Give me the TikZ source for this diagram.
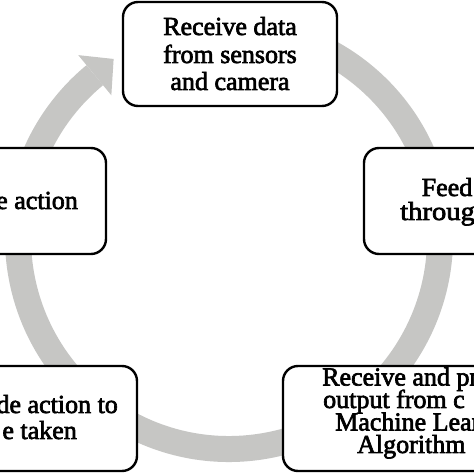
\documentclass[tikz,border=0pt]{standalone}
\usepackage{fontspec}
\setmainfont{Liberation Serif}[FakeBold=2.5]
\definecolor{bandgray}{RGB}{198,198,196}
\begin{document}
\begin{tikzpicture}[x=1pt,y=1pt,
  box/.style={draw=black, line width=2.4pt, rounded corners=15pt, fill=white,
    minimum width=214pt, minimum height=104pt, inner sep=0pt},
  lbl/.style={font=\fontsize{26}{27.5}\selectfont, inner sep=0pt, align=center},
  band/.style={draw=bandgray, line width=26pt, line cap=butt}]
\useasboundingbox (0,0) rectangle (474,474);
\clip (0,0) rectangle (474,474);
\fill[white] (0,0) rectangle (474,474);
% cycle ring with arrow
\coordinate (c) at (229,236);
\draw[band, shift={(c)}] (100:211) arc[start angle=100, end angle=-230.5, radius=211];
\fill[bandgray, shift={(c)}] (129.5:185) -- (122.8:213) -- (129.5:237) -- cycle;
% boxes
\node[box] (top) at (230,420) {};
\node[box, minimum height=106pt] (right) at (471,273) {};
\node[box, minimum height=106pt] (left) at (-1,273) {};
\node[box, minimum height=105pt] (bl) at (30,55.5) {};
\node[box, minimum height=105pt] (br) at (390,55.5) {};
% texts
\node[lbl, anchor=base] (t1) at (230,439) {Receive data};
\node[lbl, anchor=base] (t2) at (230,411) {from sensors};
\node[lbl, anchor=base] (t3) at (230,384) {and camera};
\node[lbl, anchor=base west] (r1) at (421.5,278) {Feed};
\node[lbl, anchor=base west, xscale=1.1, transform shape] (r2) at (400,254) {throug};
\node[lbl, anchor=base east] (l1) at (78,265) {e action};
\node[lbl, anchor=base east] (bl1) at (118,61) {de action to};
\node[lbl, anchor=base east] (bl2) at (77,35) {e taken};
\node[lbl, anchor=base west] (br1) at (322,88.5) {Receive and pr};
\node[lbl, anchor=base west] (br2) at (323,66) {output from c};
\node[lbl, anchor=base west] (br3) at (335,43.5) {Machine Lear};
\node[lbl, anchor=base west] (br4) at (357,21) {Algorithm};
\end{tikzpicture}
\end{document}
